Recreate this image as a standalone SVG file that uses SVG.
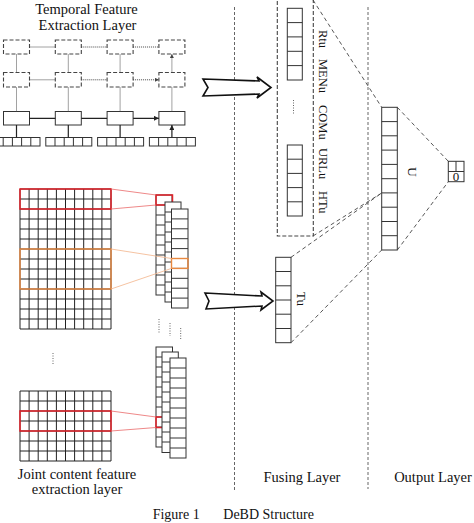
<svg xmlns="http://www.w3.org/2000/svg" width="474" height="523" viewBox="0 0 474 523">
<defs>
<style>
.t{font-family:"Liberation Serif","Times New Roman",serif;fill:#111}
.cell{fill:#fff;stroke:#333;stroke-width:1}
.ln{fill:none;stroke:#333;stroke-width:1}
.grid{fill:none;stroke:#222;stroke-width:1}
.dbox{fill:#fff;stroke:#444;stroke-width:1.1;stroke-dasharray:4 2}
.sep{fill:none;stroke:#666;stroke-width:1;stroke-dasharray:3 2}
.fan{fill:none;stroke:#444;stroke-width:0.9;stroke-dasharray:4 3}
.dot{fill:none;stroke:#666;stroke-width:1;stroke-dasharray:1 1.5}
.tdot{fill:none;stroke:#444;stroke-width:1;stroke-dasharray:1 1}
.solid{fill:none;stroke:#222;stroke-width:1.2}
.big{fill:#fff;stroke:#111;stroke-width:1.6;stroke-linejoin:miter}
.red{fill:none;stroke:#e3222a;stroke-width:1.5}
.redl{fill:none;stroke:#ea6a6a;stroke-width:0.8}
.org{fill:none;stroke:#e8883f;stroke-width:1.4}
.orgl{fill:none;stroke:#f2b48a;stroke-width:0.8}
</style>
<marker id="ah" viewBox="0 0 6 6" refX="6" refY="3" markerWidth="5" markerHeight="5" orient="auto" markerUnits="userSpaceOnUse"><path d="M0 0L6 3L0 6Z" fill="#222"/></marker>
<marker id="ahg" viewBox="0 0 6 6" refX="6" refY="3" markerWidth="4" markerHeight="4" orient="auto" markerUnits="userSpaceOnUse"><path d="M0 0L6 3L0 6Z" fill="#444"/></marker>
</defs>
<rect x="0" y="0" width="474" height="523" fill="#fff"/>

<g id="separators">
<path class="sep" d="M234.5 7V490M368 7V489"/>
</g>

<g id="temporal-layer">
<text class="t" x="86.5" y="14" font-size="14.5" text-anchor="middle">Temporal Feature</text>
<text class="t" x="87.5" y="29.5" font-size="14.5" text-anchor="middle">Extraction Layer</text>
<g id="dashed-row1">
<rect class="dbox" x="3.5" y="40" width="26" height="14"/>
<rect class="dbox" x="55.3" y="40" width="26" height="14"/>
<rect class="dbox" x="107.1" y="40" width="26" height="14"/>
<rect class="dbox" x="158.9" y="40" width="26" height="14"/>
</g>
<g id="dashed-row2">
<rect class="dbox" x="3.5" y="72.5" width="26" height="14.5"/>
<rect class="dbox" x="55.3" y="72.5" width="26" height="14.5"/>
<rect class="dbox" x="107.1" y="72.5" width="26" height="14.5"/>
<rect class="dbox" x="158.9" y="72.5" width="26" height="14.5"/>
</g>
<g id="rnn-row">
<rect class="cell" x="3.5" y="111.5" width="26" height="13.5"/>
<rect class="cell" x="55.3" y="111.5" width="26" height="13.5"/>
<rect class="cell" x="107.1" y="111.5" width="26" height="13.5"/>
<rect class="cell" x="158.9" y="111.5" width="26" height="13.5"/>
</g>
<g id="inputs">
<rect class="cell" x="-6" y="137.5" width="46" height="8.5"/>
<rect class="cell" x="45.8" y="137.5" width="46" height="8.5"/>
<rect class="cell" x="97.6" y="137.5" width="46" height="8.5"/>
<rect class="cell" x="149.4" y="137.5" width="46" height="8.5"/>
<path class="ln" d="M3.2 137.5V146M12.4 137.5V146M21.6 137.5V146M30.8 137.5V146M55 137.5V146M64.2 137.5V146M73.4 137.5V146M82.6 137.5V146M106.8 137.5V146M116 137.5V146M125.2 137.5V146M134.4 137.5V146M158.6 137.5V146M167.8 137.5V146M177 137.5V146M186.2 137.5V146"/>
</g>
</g>

<g id="joint-layer">
<g id="grid-top">
<path class="grid" d="M20 189H111M20 199H111M20 209H111M20 219H111M20 229H111M20 239H111M20 249H111M20 259H111M20 269H111M20 279H111M20 289H111M20 299H111M20 309H111M20 319H111M20 329H111M20 189V329M29.1 189V329M38.2 189V329M47.3 189V329M56.4 189V329M65.5 189V329M74.6 189V329M83.7 189V329M92.8 189V329M101.9 189V329M111 189V329"/>
<rect class="red" x="20" y="189" width="91" height="20"/>
<rect class="org" x="20" y="249" width="91" height="40"/>
</g>
<g id="grid-bottom">
<path class="grid" d="M20 391H111M20 401H111M20 411H111M20 421H111M20 431H111M20 441H111M20 451H111M20 461H111M20 391V461M29.1 391V461M38.2 391V461M47.3 391V461M56.4 391V461M65.5 391V461M74.6 391V461M83.7 391V461M92.8 391V461M101.9 391V461M111 391V461"/>
<rect class="red" x="20" y="411" width="91" height="20"/>
</g>
<path class="dot" d="M53 353V365"/>
<g id="stack-top">
<rect class="cell" x="156" y="195" width="16" height="100"/>
<path class="ln" d="M156 205H172M156 215H172M156 225H172M156 235H172M156 245H172M156 255H172M156 265H172M156 275H172M156 285H172"/>
<rect class="red" x="156" y="195" width="16.5" height="10"/>
<rect class="cell" x="165" y="202" width="16" height="100"/>
<path class="ln" d="M165 212H181M165 222H181M165 232H181M165 242H181M165 252H181M165 262H181M165 272H181M165 282H181M165 292H181"/>
<rect class="cell" x="171.5" y="209" width="16.5" height="99"/>
<path class="ln" d="M171.5 218.9H188M171.5 228.8H188M171.5 238.7H188M171.5 248.6H188M171.5 258.5H188M171.5 268.4H188M171.5 278.3H188M171.5 288.2H188M171.5 298.1H188"/>
<rect class="org" x="171.5" y="258.5" width="16.5" height="9.9"/>
</g>
<path class="dot" d="M159 319V333M170 323V336M180.7 328V340"/>
<g id="stack-bottom">
<rect class="cell" x="156" y="347" width="16.5" height="100"/>
<path class="ln" d="M156 357H172.5M156 367H172.5M156 377H172.5M156 387H172.5M156 397H172.5M156 407H172.5M156 417H172.5M156 427H172.5M156 437H172.5"/>
<rect class="red" x="156" y="417" width="16.5" height="10.5"/>
<rect class="cell" x="162" y="352" width="16.3" height="100.5"/>
<path class="ln" d="M162 362H178.3M162 372H178.3M162 382H178.3M162 392H178.3M162 402H178.3M162 412H178.3M162 422H178.3M162 432H178.3M162 442H178.3"/>
<rect class="cell" x="170" y="358" width="16" height="100"/>
<path class="ln" d="M170 368H186M170 378H186M170 388H186M170 398H186M170 408H186M170 418H186M170 428H186M170 438H186M170 448H186"/>
</g>
<text class="t" x="77" y="479" font-size="14.5" text-anchor="middle">Joint content feature</text>
<text class="t" x="77" y="493.5" font-size="14.5" text-anchor="middle">extraction layer</text>
</g>

<g id="fusing-layer">
<rect class="dbox" x="277.3" y="-1" width="36" height="237" fill="none" stroke="#555"/>
<g id="vec-rtu">
<rect class="cell" x="287.3" y="8.3" width="15" height="71.7"/>
<path class="ln" d="M287.3 22.6H302.3M287.3 36.9H302.3M287.3 51.3H302.3M287.3 65.6H302.3"/>
</g>
<path class="dot" d="M293.5 100V115"/>
<g id="vec-htu">
<rect class="cell" x="287.3" y="145" width="15" height="71"/>
<path class="ln" d="M287.3 159.2H302.3M287.3 173.4H302.3M287.3 187.6H302.3M287.3 201.8H302.3"/>
</g>
<g font-size="12.5">
<text class="t" transform="translate(319,30) rotate(90)">Rtu</text>
<text class="t" transform="translate(319,59) rotate(90)">MENu</text>
<text class="t" transform="translate(319,105) rotate(90)">COMu</text>
<text class="t" transform="translate(319,148) rotate(90)">URLu</text>
<text class="t" transform="translate(319,191) rotate(90)">HTu</text>
</g>
<g id="vec-tu">
<rect class="cell" x="275.7" y="257.3" width="15.3" height="85.4"/>
<path class="ln" d="M275.7 271.5H291M275.7 285.8H291M275.7 300H291M275.7 314.2H291M275.7 328.5H291"/>
<text class="t" font-size="13" transform="translate(297,292) rotate(90)">Tu</text>
</g>
<text class="t" x="302" y="482" font-size="14.5" text-anchor="middle">Fusing Layer</text>
</g>

<g id="output-layer">
<g id="vec-u">
<rect class="cell" x="381.7" y="107.3" width="15.6" height="142.7"/>
<path class="ln" d="M381.7 121.6H397.3M381.7 135.8H397.3M381.7 150.1H397.3M381.7 164.4H397.3M381.7 178.7H397.3M381.7 192.9H397.3M381.7 207.2H397.3M381.7 221.5H397.3M381.7 235.7H397.3"/>
<text class="t" font-size="13.5" transform="translate(408,167) rotate(90)">U</text>
</g>
<g id="out">
<rect class="cell" x="448.3" y="161.3" width="15.7" height="20.4"/>
<path class="ln" d="M448.3 171.5H464M456 161.3V171.5"/>
<text class="t" x="456" y="181" font-size="13" text-anchor="middle">0</text>
</g>
<text class="t" x="433" y="482" font-size="14.5" text-anchor="middle">Output Layer</text>
</g>

<g id="connectors">
<path class="tdot" marker-end="url(#ahg)" d="M29.5 47H55.3M81.3 47H107.1M133.1 47H158.9M29.5 79.8H55.3M81.3 79.8H107.1M133.1 79.8H158.9"/>
<path class="tdot" marker-end="url(#ahg)" d="M16.5 111.5V87M68.3 111.5V87M120.1 111.5V87M171.9 111.5V87M16.5 72.5V54M68.3 72.5V54M120.1 72.5V54M171.9 72.5V54"/>
<path class="solid" marker-end="url(#ah)" d="M29.5 118.3H55.3M81.3 118.3H107.1M133.1 118.3H158.9"/>
<path class="solid" marker-end="url(#ah)" d="M16.5 137.5V125M68.3 137.5V125M120.1 137.5V125M171.9 137.5V125"/>
<path class="redl" d="M111 189L156 195M111 209L156 205M111 411L156 417M111 431L156 427.5"/>
<path class="orgl" d="M111 249L171.5 258.5M111 289L171.5 268.4"/>
<polygon class="big" points="203,79 259,81 257,77 271,87.5 257,98 259,94 203,96 208,87.5"/>
<polygon class="big" points="205,293 262,296 261,292 273,301 261,310 262,306 206,309 209,301"/>
<path class="fan" d="M313 0L381.7 107.3M313 236L381.7 193M291 257.3L381.7 193M291 342.7L381.7 250M397.3 107.3L448.3 161.3M397.3 250L448.3 181.7"/>
</g>

<g id="caption">
<text class="t" x="152.7" y="519" font-size="14">Figure 1</text>
<text class="t" x="223.3" y="519" font-size="14">DeBD Structure</text>
</g>
</svg>
